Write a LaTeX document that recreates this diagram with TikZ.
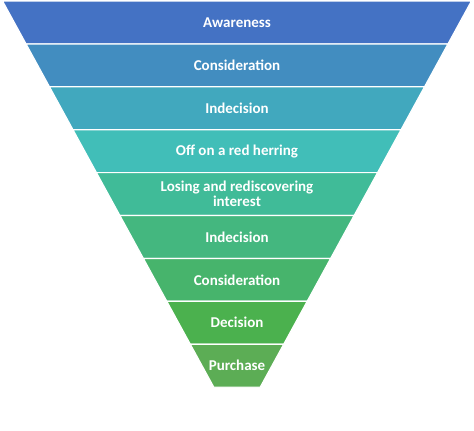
\documentclass[tikz,border=0pt]{standalone}
\usepackage{fontspec}
\setmainfont{Carlito}
\definecolor{band0}{HTML}{4472C4}
\definecolor{band1}{HTML}{428DC0}
\definecolor{band2}{HTML}{41A8BE}
\definecolor{band3}{HTML}{41BEB8}
\definecolor{band4}{HTML}{40BB98}
\definecolor{band5}{HTML}{44B77F}
\definecolor{band6}{HTML}{47B46C}
\definecolor{band7}{HTML}{4BB14E}
\definecolor{band8}{HTML}{5CAD55}
\tikzset{
  band/.style={draw=white,line width=1.2pt},
  bandtext/.style={text=white,font=\bfseries\fontsize{15}{15}\selectfont,align=center}
}
\begin{document}
\begin{tikzpicture}[x=1pt,y=-1pt]
\useasboundingbox (0,0) rectangle (474,431);
\foreach \lbl [count=\i from 0] in {Awareness,Consideration,Indecision,Off on a red herring,{Losing and rediscovering\\interest},Indecision,Consideration,Decision,Purchase}{
  \pgfmathsetmacro\ytop{1+42.9*\i}
  \pgfmathsetmacro\ybot{\ytop+42.9}
  \pgfmathsetmacro\wtop{235-0.547*\ytop}
  \pgfmathsetmacro\wbot{235-0.547*\ybot}
  \draw[band,fill=band\i] (237-\wtop,\ytop) -- (237+\wtop,\ytop) -- (237+\wbot,\ybot) -- (237-\wbot,\ybot) -- cycle;
  \node[bandtext] (stage\i) at (237,{(\ytop+\ybot)/2}) {\lbl};
}
\end{tikzpicture}
\end{document}
